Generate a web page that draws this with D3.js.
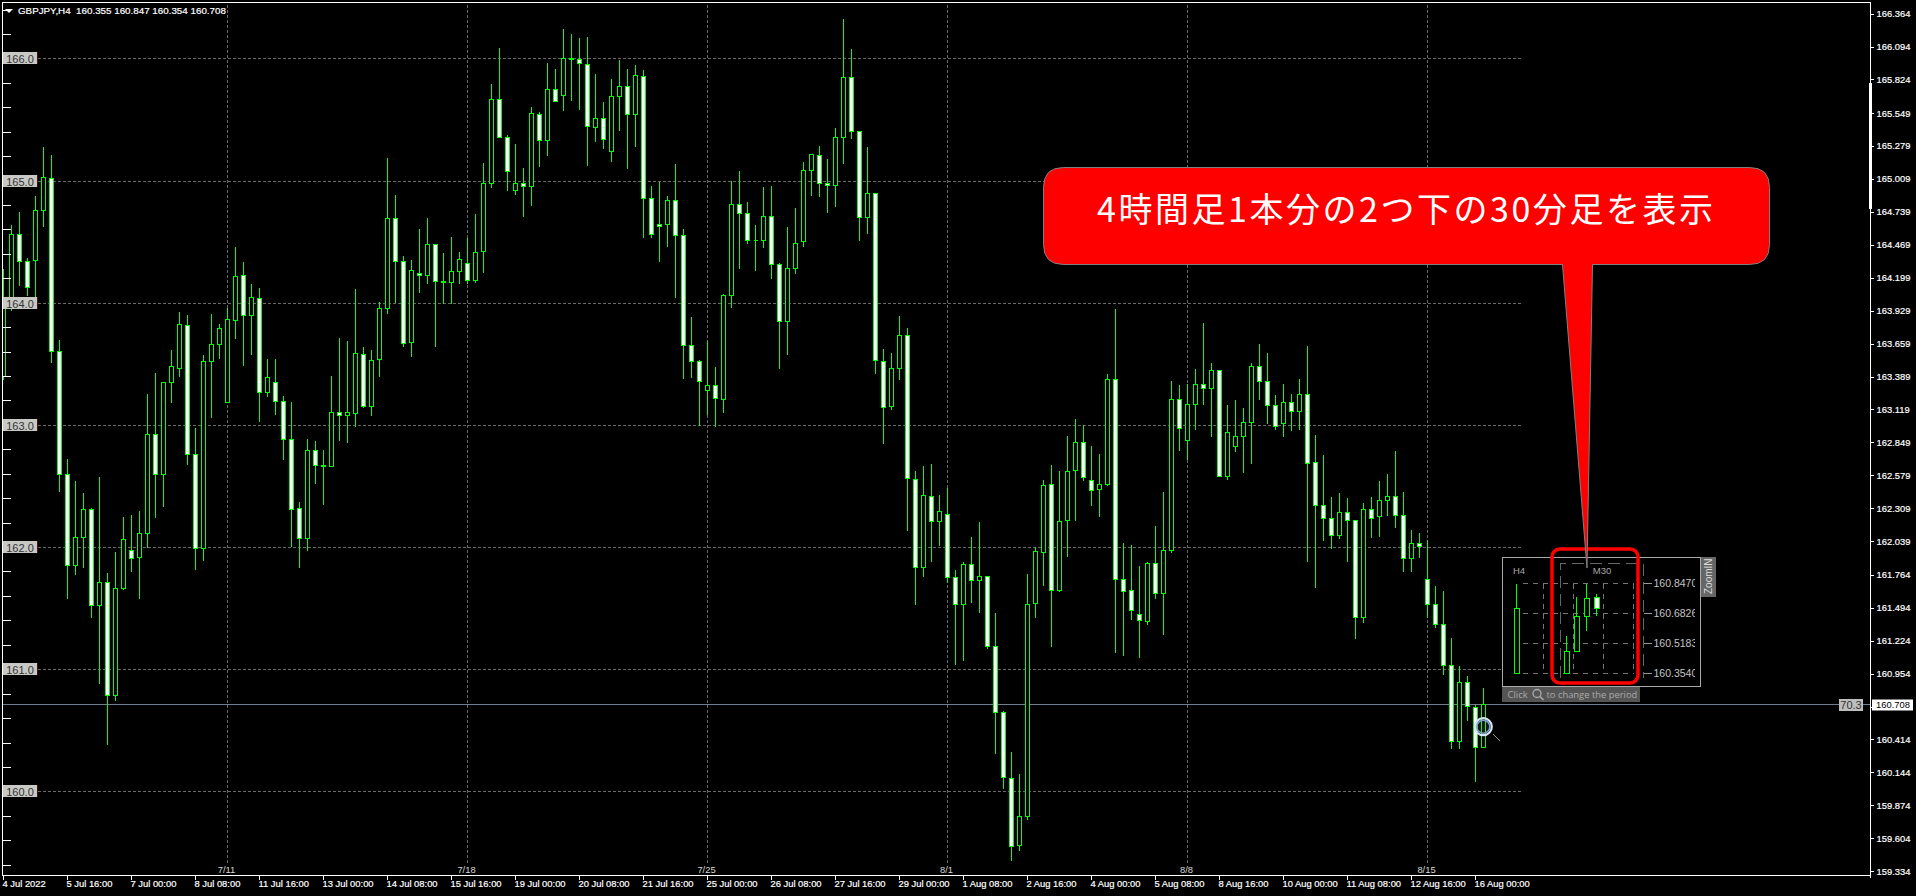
<!DOCTYPE html>
<html><head><meta charset="utf-8">
<style>
html,body{margin:0;padding:0;background:#000;overflow:hidden}
svg{display:block}
text{font-family:"Liberation Sans",Arial,sans-serif}
</style>
<script src="https://cdn.jsdelivr.net/npm/d3@7"></script>
</head><body>
<div id="chart"></div>
<script>
const opens=[163.392,163.952,164.559,164.335,164.346,164.755,165.015,163.600,162.589,161.846,
162.075,162.305,161.518,161.706,160.780,161.657,161.969,161.911,162.108,162.919,
162.592,163.346,163.460,163.813,162.755,161.985,163.518,163.657,163.182,163.854,
164.223,163.895,164.034,163.264,163.346,163.190,162.878,162.313,162.067,162.788,
162.665,162.657,163.097,163.075,163.092,163.572,163.149,163.534,163.952,164.690,
164.337,163.674,164.239,164.223,164.477,164.174,164.165,164.256,164.321,164.182,
164.419,164.977,165.665,165.354,164.919,164.977,164.952,165.542,165.329,165.747,
165.698,165.993,165.993,165.952,165.436,165.510,165.239,165.690,165.772,165.542,
165.854,164.854,164.641,164.641,164.837,164.551,163.649,163.518,163.280,163.321,
163.206,164.059,164.805,164.731,164.510,164.510,164.706,164.313,163.846,164.280,
164.501,165.081,165.206,164.977,164.960,165.354,165.846,165.403,164.698,164.895,
163.518,163.149,163.460,163.731,162.550,161.829,162.411,162.206,162.264,161.747,
161.526,161.854,161.723,161.756,161.182,160.641,160.100,159.551,159.788,161.534,
161.952,162.510,161.641,162.214,162.624,162.854,162.542,162.469,162.510,163.370,
161.731,161.641,161.444,161.387,161.862,161.616,161.969,163.206,162.870,163.165,
163.329,163.296,163.444,162.575,162.821,162.903,163.018,163.477,163.354,163.157,
163.010,163.182,163.108,163.247,162.690,162.337,162.231,162.092,162.280,162.214,
161.419,162.305,162.247,162.378,162.411,162.256,161.903,162.026,161.731,161.526,
161.362,161.026,160.403,160.887,160.682,160.355];
const highs=[164.280,164.643,164.742,164.370,164.873,165.275,165.217,163.698,162.725,162.537,
162.439,162.316,162.575,161.783,161.963,162.242,162.266,162.299,163.255,163.428,
163.356,163.616,163.928,163.898,162.977,163.575,163.906,163.824,163.955,164.460,
164.340,164.152,164.124,163.542,163.542,163.239,163.190,162.365,162.887,162.865,
162.794,163.403,163.714,163.690,164.116,163.641,163.611,164.010,165.190,164.887,
164.387,164.354,164.608,164.698,164.477,164.411,164.542,164.419,164.534,164.731,
165.149,165.791,166.092,165.378,165.305,165.108,165.603,165.562,165.971,165.914,
166.242,166.201,166.176,166.184,165.878,165.649,165.832,165.988,165.919,165.952,
165.906,164.960,164.988,164.878,165.141,164.608,163.887,163.529,163.690,163.477,
164.075,165.001,165.083,164.824,164.643,164.952,164.960,164.329,164.624,164.780,
165.157,165.215,165.288,165.182,165.436,166.329,166.083,165.411,165.280,164.895,
163.624,163.592,163.895,163.796,162.624,162.665,162.682,162.428,162.485,161.813,
161.881,162.086,162.209,161.764,161.463,160.652,160.316,160.141,161.780,162.004,
162.550,162.676,162.619,162.906,163.050,163.001,162.829,162.766,163.422,163.947,
162.029,162.018,161.848,161.881,162.174,162.447,163.362,163.324,163.340,163.455,
163.840,163.510,163.452,163.165,163.206,163.143,163.510,163.665,163.592,163.247,
163.337,163.255,163.378,163.649,162.919,162.755,162.411,162.444,162.403,162.214,
162.362,162.411,162.542,162.600,162.788,162.452,162.141,162.116,162.059,161.682,
161.643,161.256,161.026,160.944,160.709,160.847];
const lows=[163.365,163.933,164.143,164.056,164.040,164.627,163.507,162.449,161.572,161.769,
161.824,161.414,160.876,160.376,160.736,161.646,161.794,161.572,161.993,162.236,
162.326,163.179,163.392,162.671,161.810,161.884,163.056,163.537,163.182,163.701,
163.480,163.570,163.023,163.228,163.086,162.712,162.004,161.824,161.966,162.515,
162.343,162.657,162.867,162.851,162.982,163.138,163.072,163.392,163.906,164.004,
163.638,163.556,164.086,164.152,163.638,163.993,163.988,164.152,164.152,164.168,
164.242,164.939,165.354,164.914,164.889,164.701,164.799,165.111,165.201,165.649,
165.570,165.652,165.586,165.119,165.316,165.266,165.152,165.406,165.102,165.275,
164.529,164.529,164.340,164.463,164.045,163.373,163.389,162.990,163.078,162.980,
163.102,163.963,164.275,164.480,164.266,164.447,164.193,163.455,163.570,164.234,
164.455,164.873,164.865,164.734,164.783,165.143,165.348,164.512,164.562,163.414,
162.848,163.119,163.365,162.130,161.523,161.758,161.873,162.012,161.701,161.029,
161.062,161.545,161.463,161.160,160.302,160.015,159.425,159.507,159.761,161.422,
161.679,161.184,161.630,161.914,162.217,162.537,162.332,162.242,162.496,161.135,
161.103,161.398,161.094,161.357,161.570,161.275,161.947,162.783,162.717,162.955,
163.168,162.898,162.575,162.553,162.775,162.603,162.684,163.201,163.010,162.963,
162.898,162.947,162.963,161.881,161.668,162.053,161.980,162.062,161.873,161.250,
161.373,162.070,162.086,162.258,162.152,161.791,161.799,161.906,161.417,161.332,
160.947,160.343,160.343,160.570,160.072,160.354];
const closes=[163.952,164.559,164.335,164.124,164.755,165.026,163.600,162.589,161.846,162.075,
162.305,161.518,161.706,160.780,161.657,162.059,161.903,162.108,162.919,162.592,
163.346,163.477,163.821,162.755,161.985,163.518,163.657,163.788,163.862,164.214,
163.895,164.042,163.264,163.387,163.190,162.878,162.305,162.067,162.788,162.665,
162.657,163.097,163.075,163.097,163.581,163.149,163.526,163.952,164.690,164.337,
163.665,164.264,164.223,164.477,164.174,164.163,164.256,164.354,164.182,164.411,
164.977,165.665,165.354,165.075,164.977,164.952,165.551,165.329,165.747,165.649,
166.001,166.001,165.960,165.444,165.510,165.337,165.690,165.772,165.542,165.862,
164.854,164.559,164.624,164.837,164.551,163.649,163.518,163.354,163.321,163.214,
164.059,164.805,164.731,164.510,164.510,164.706,164.313,163.846,164.280,164.485,
165.083,165.215,164.977,164.960,165.354,165.846,165.403,164.698,164.895,163.526,
163.141,163.460,163.731,162.559,161.829,162.419,162.206,162.288,161.747,161.526,
161.854,161.723,161.756,161.182,160.641,160.108,159.542,159.788,161.526,161.960,
162.501,161.641,162.206,162.616,162.854,162.567,162.460,162.510,163.370,161.731,
161.633,161.477,161.395,161.862,161.616,161.969,163.206,162.969,163.165,163.329,
163.296,163.444,162.575,162.936,162.903,163.018,163.477,163.354,163.157,162.985,
163.182,163.108,163.247,162.682,162.337,162.231,162.092,162.280,162.214,161.419,
162.305,162.231,162.378,162.411,162.256,161.903,162.026,162.001,161.526,161.362,
161.026,160.403,160.887,160.690,160.354,160.708];

const xTickLabels=["4 Jul 2022","5 Jul 16:00","7 Jul 00:00","8 Jul 08:00","11 Jul 16:00","13 Jul 00:00","14 Jul 08:00","15 Jul 16:00","19 Jul 00:00","20 Jul 08:00","21 Jul 16:00","25 Jul 00:00","26 Jul 08:00","27 Jul 16:00","29 Jul 00:00","1 Aug 08:00","2 Aug 16:00","4 Aug 00:00","5 Aug 08:00","8 Aug 16:00","10 Aug 00:00","11 Aug 08:00","12 Aug 16:00","16 Aug 00:00"];
const weekIndex=[28,58,88,118,148,178];
const weekLabels=["7/11","7/18","7/25","8/1","8/8","8/15"];
const rightTicks=[166.364,166.094,165.824,165.549,165.279,165.009,164.739,164.469,164.199,163.929,163.659,163.389,163.119,162.849,162.579,162.309,162.039,161.764,161.494,161.224,160.954,160.684,160.414,160.144,159.874,159.604,159.334];
const leftMajor=[166,165,164,163,162,161,160];
const leftMinor=[166.4,166.2,165.8,165.6,165.4,165.2,164.8,164.6,164.4,164.2,163.8,163.6,163.4,163.2,162.8,162.6,162.4,162.2,161.8,161.6,161.4,161.2,160.8,160.6,160.4,160.2,159.8,159.6,159.4];
const lastPrice=160.708;
const lastIndicator="70.3";
const headerText="GBPJPY,H4  160.355 160.847 160.354 160.708";
const calloutText="4時間足1本分の2つ下の30分足を表示";

// inset panel data
const insetOpens=[160.355,160.354,160.473,160.666,160.770];
const insetHighs=[160.847,160.564,160.778,160.847,160.792];
const insetLows=[160.354,160.354,160.472,160.588,160.672];
const insetCloses=[160.708,160.473,160.666,160.765,160.710];
const insetSlots=[0,5,6,7,8];
const insetTicks=[160.8470,160.6826,160.5183,160.3540];
const insetGridSlots=[2.7,5.7,8.7,11.7];

const W=1916,H=896,GREEN="#00ff00";
const frameL=2.5,frameR=1870.5,frameT=2.5,frameB=875.5;
const svg=d3.select("#chart").append("svg").attr("width",W).attr("height",H).style("background","#000");

const x=d3.scaleLinear().domain([0,185]).range([3.5,1483.5]);
const y=d3.scaleLinear().domain([166,160]).range([58.5,790.5]);
const gridY=d3.scaleLinear().domain([166,160]).range([58.4,791.4]);
const snap=v=>Math.floor(v)+0.5;
const snapR=v=>Math.round(v)+0.5;

const defs=svg.append("defs");
defs.append("clipPath").attr("id","plot").append("rect").attr("x",3).attr("y",3).attr("width",frameR-3).attr("height",frameB-3);
defs.append("clipPath").attr("id","insetLabels").append("rect").attr("x",1640).attr("y",560).attr("width",55).attr("height",125);

// grid
const grid=svg.append("g").attr("stroke","#696969").attr("stroke-dasharray","3,2").attr("shape-rendering","crispEdges");
grid.selectAll("line.h").data(leftMajor).join("line").attr("class","h")
  .attr("x1",38).attr("x2",1523).attr("y1",d=>snapR(gridY(d))).attr("y2",d=>snapR(gridY(d)));
grid.selectAll("line.v").data(weekIndex).join("line").attr("class","v")
  .attr("x1",d=>x(d)).attr("x2",d=>x(d)).attr("y1",5).attr("y2",863);

// current price line
svg.append("line").attr("x1",frameL).attr("x2",frameR).attr("y1",snap(y(lastPrice))).attr("y2",snap(y(lastPrice)))
  .attr("stroke","#708090").attr("shape-rendering","crispEdges");

// candles
function candles(sel,idx,xf,yf,O,Hi,Lo,C,bw){
  const g=sel.selectAll("g").data(idx).join("g").attr("shape-rendering","crispEdges");
  g.append("line").attr("x1",i=>xf(i)).attr("x2",i=>xf(i))
    .attr("y1",i=>snap(yf(Hi[i]))).attr("y2",i=>snap(yf(Lo[i]))+0.5).attr("stroke",GREEN);
  g.append("path").attr("d",i=>{
      const a=snap(yf(Math.max(O[i],C[i]))),b=snap(yf(Math.min(O[i],C[i]))),l=xf(i)-bw/2,r=xf(i)+bw/2;
      return `M${l},${a}H${r}V${b}H${l}Z`;
    })
    .attr("fill",i=>O[i]>C[i]?"#fff":"#000").attr("stroke",GREEN);
}
const plot=svg.append("g").attr("clip-path","url(#plot)");
candles(plot,d3.range(opens.length),x,y,opens,highs,lows,closes,4);

// frame
svg.append("path").attr("d",`M${frameL},${frameB}V${frameT}H${frameR}V${frameB+2}M${frameL},${frameB}H${frameR}`)
  .attr("fill","none").attr("stroke","#fff").attr("shape-rendering","crispEdges");
svg.append("rect").attr("x",1869).attr("y",83).attr("width",3).attr("height",126).attr("fill","#fff");

// x axis
const axisInk=s=>s.attr("fill","#fff").attr("stroke","#fff").attr("stroke-width",0.2).style("font-size","9.4px").style("font-family","Liberation Sans");
const xAxis=d3.axisBottom(x).tickValues(xTickLabels.map((_,k)=>k*8)).tickFormat(i=>xTickLabels[i/8]).tickSize(4).tickPadding(0).offset(0);
const xg=svg.append("g").attr("transform",`translate(0,${frameB})`).call(xAxis);
xg.select(".domain").remove();
xg.selectAll("line").attr("stroke","#fff").attr("shape-rendering","crispEdges");
xg.selectAll("text").attr("text-anchor","start").attr("dx",-1).attr("y",5).attr("dy","0.71em").call(axisInk);

// week labels
svg.append("g").selectAll("text").data(weekIndex).join("text")
  .attr("x",d=>x(d)-1).attr("y",872.5).attr("text-anchor","middle").attr("fill","#d8d8d8")
  .style("font-size","9.4px").text((d,k)=>weekLabels[k]);

// right axis
const rAxis=d3.axisRight(y).tickValues(rightTicks).tickFormat(d=>d.toFixed(3)).tickSize(3).tickPadding(3).offset(0);
const rg=svg.append("g").attr("transform",`translate(${frameR},0)`).call(rAxis);
rg.select(".domain").remove();
rg.selectAll("line").attr("stroke","#fff").attr("shape-rendering","crispEdges");
rg.selectAll("text").call(axisInk);

// left minor ticks
const lAxis=d3.axisRight(gridY).tickValues(leftMinor).tickFormat("").tickSize(8).offset(0);
const lg=svg.append("g").attr("transform",`translate(${frameL},0)`).call(lAxis);
lg.select(".domain").remove();
lg.selectAll("g.tick").attr("transform",d=>`translate(0,${snapR(gridY(d))})`);
lg.selectAll("line").attr("stroke","#fff").attr("shape-rendering","crispEdges");

// left major labels
const lm=svg.append("g").selectAll("g").data(leftMajor).join("g").attr("transform",d=>`translate(0,${snapR(gridY(d))})`);
lm.append("rect").attr("x",3).attr("y",-6.5).attr("width",34).attr("height",12).attr("fill","#c8c8c4");
lm.append("rect").attr("x",37).attr("y",-6.5).attr("width",1).attr("height",12).attr("fill","#4a1010");
lm.append("text").attr("x",20).attr("y",4).attr("text-anchor","middle").attr("fill","#333").style("font-size","11px").text(d=>d.toFixed(1));

// last price labels
const py=snap(y(lastPrice));
svg.append("rect").attr("x",1839).attr("y",py-5.5).attr("width",24).attr("height",12).attr("fill","#bdbdbd");
svg.append("text").attr("x",1851).attr("y",py+4).attr("text-anchor","middle").attr("fill","#333").style("font-size","11px").text(lastIndicator);
svg.append("rect").attr("x",1872).attr("y",py-5).attr("width",41).attr("height",11).attr("fill","#fff");
svg.append("text").attr("x",1876).attr("y",py+3.5).attr("fill","#000").style("font-size","9.4px").text(lastPrice.toFixed(3));

// header
svg.append("path").attr("d","M5,9H13L9,13Z").attr("fill","#fff");
svg.append("text").attr("x",18).attr("y",14).attr("fill","#fff").attr("stroke","#fff").attr("stroke-width",0.2).style("font-size","9.8px").style("white-space","pre").text(headerText);

// callout
const cx0=1043.5,cx1=1769.5,cy0=167.5,cy1=264.5,cr=20;
svg.append("path").attr("d",`M${cx0+cr},${cy0}H${cx1-cr}Q${cx1},${cy0} ${cx1},${cy0+cr}V${cy1-cr}Q${cx1},${cy1} ${cx1-cr},${cy1}H${cx0+cr}Q${cx0},${cy1} ${cx0},${cy1-cr}V${cy0+cr}Q${cx0},${cy0} ${cx0+cr},${cy0}Z`)
  .attr("fill","#ff0000").attr("stroke","#808080");

// inset panel
const ix=svg.append("g");
ix.append("rect").attr("x",1502.5).attr("y",557.5).attr("width",198).attr("height",128.5).attr("fill","#000").attr("stroke","#aaa").attr("shape-rendering","crispEdges");
const yi=d3.scaleLinear().domain([160.847,160.354]).range([583.5,673.5]);
const xi=d3.scaleLinear().domain([0,8]).range([1516.5,1596.5]);
const igrid=ix.append("g").attr("stroke","#777").attr("stroke-dasharray","5,5").attr("shape-rendering","crispEdges");
igrid.selectAll("line.h").data(insetTicks).join("line").attr("class","h").attr("x1",1523).attr("x2",1634).attr("y1",d=>snap(yi(d))).attr("y2",d=>snap(yi(d)));
igrid.selectAll("line.v").data(insetGridSlots).join("line").attr("class","v").attr("x1",d=>xi(d)).attr("x2",d=>xi(d)).attr("y1",583.5).attr("y2",673.5);
ix.append("path").attr("d","M1560.5,678V563.5H1643.5V678").attr("fill","none").attr("stroke","#666").attr("stroke-dasharray","12,6").attr("shape-rendering","crispEdges");
const ic=ix.append("g");
candles(ic,d3.range(insetOpens.length),i=>xi(insetSlots[i]),yi,insetOpens,insetHighs,insetLows,insetCloses,5);
ix.selectAll("line.it").data(insetTicks).join("line").attr("class","it").attr("x1",1644).attr("x2",1652).attr("y1",d=>snap(yi(d))).attr("y2",d=>snap(yi(d))).attr("stroke","#999").attr("shape-rendering","crispEdges");
ix.append("g").attr("clip-path","url(#insetLabels)").selectAll("text").data(insetTicks).join("text")
  .attr("x",1653.5).attr("y",d=>yi(d)+3.7).attr("fill","#c4c4c4").style("font-size","10.5px").text(d=>d.toFixed(4));
ix.append("text").attr("x",1513).attr("y",574).attr("fill","#a8a8a8").style("font-size","9.5px").text("H4");
ix.append("text").attr("x",1602).attr("y",574).attr("text-anchor","middle").attr("fill","#a8a8a8").style("font-size","9.5px").text("M30");
// ZoomIN tab
ix.append("rect").attr("x",1701).attr("y",557).attr("width",15).attr("height",40).attr("fill","#666");
ix.append("text").attr("transform","translate(1712,594) rotate(-90)").attr("fill","#ddd").style("font-size","10px").text("ZoomIN");
// hint bar
ix.append("rect").attr("x",1502).attr("y",687).attr("width",138).attr("height",15).attr("fill","#555");
ix.append("text").attr("x",1507.5).attr("y",698).attr("fill","#aaa").style("font-family","Open Sans").style("font-size","9.4px").text("Click");
ix.append("text").attr("x",1546.5).attr("y",698).attr("fill","#aaa").style("font-family","Open Sans").style("font-size","9.4px").text("to change the period");
ix.append("circle").attr("cx",1537).attr("cy",693.5).attr("r",4).attr("fill","none").attr("stroke","#aaa").attr("stroke-width",1.3);
ix.append("line").attr("x1",1540).attr("y1",696.5).attr("x2",1543.5).attr("y2",700).attr("stroke","#aaa").attr("stroke-width",1.6);
// red highlight
ix.append("rect").attr("x",1552).attr("y",549).attr("width",86).attr("height",134).attr("rx",8).attr("fill","none").attr("stroke","#ff0000").attr("stroke-width",3.5);
// tail of the callout, over the panel
svg.append("path").attr("d",`M1562.5,${cy1}L1587,568L1592.5,${cy1}`).attr("fill","#ff0000").attr("stroke","#808080");
svg.append("rect").attr("x",1563).attr("y",262).attr("width",29).attr("height",4).attr("fill","#ff0000");
svg.append("text").attr("x",1097).attr("y",222).attr("fill","#fff").attr("textLength",616)
  .style("font-family","Noto Sans CJK JP").style("font-size","34px").text(calloutText);

// cursor
const cur=svg.append("g");
cur.append("circle").attr("cx",1483.3).attr("cy",726.7).attr("r",8.5).attr("fill","rgba(200,220,255,0.1)").attr("stroke","#d8e4f4").attr("stroke-width",2.2);
cur.append("circle").attr("cx",1483.3).attr("cy",726.7).attr("r",6.5).attr("fill","none").attr("stroke","#7f9fd0").attr("stroke-width",1.5);
cur.append("line").attr("x1",1493).attr("y1",734).attr("x2",1500).attr("y2",741).attr("stroke","#999");
</script>
</body></html>
